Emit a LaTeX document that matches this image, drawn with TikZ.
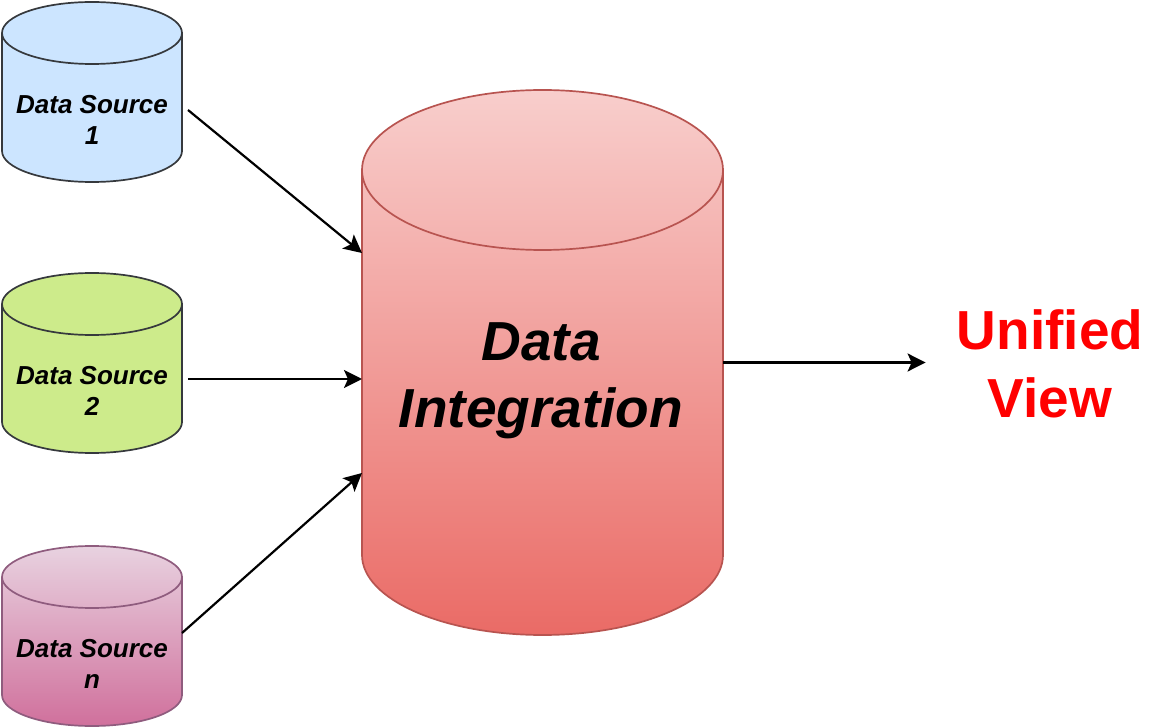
\documentclass[tikz,border=0pt]{standalone}
\usepackage{fontspec}
\setmainfont{Liberation Sans}
\usetikzlibrary{arrows.meta}

\definecolor{srcblue}{HTML}{CCE5FF}
\definecolor{srcgreen}{HTML}{CDEB8B}
\definecolor{srcpinktop}{HTML}{E8D2E0}
\definecolor{srcpinkbot}{HTML}{D0709C}
\definecolor{edgegray}{HTML}{36393D}
\definecolor{edgepink}{HTML}{8F5C7E}
\definecolor{integtop}{HTML}{F8CECC}
\definecolor{integbot}{HTML}{EA6B66}
\definecolor{edgered}{HTML}{B85450}
\definecolor{viewred}{HTML}{FF0000}

% can: centre x, centre y, half width, half height, end radius, fill, edge colour
\newcommand{\dbcan}[7]{%
  \path[#6] (#1-#3,#2-#4+#5) arc[start angle=180, end angle=360, x radius=#3, y radius=#5]
        -- (#1+#3,#2+#4-#5) arc[start angle=0, end angle=180, x radius=#3, y radius=#5] -- cycle;
  \draw[#7, line width=1.7pt] (#1-#3,#2-#4+#5) arc[start angle=180, end angle=360, x radius=#3, y radius=#5]
        -- (#1+#3,#2+#4-#5) arc[start angle=0, end angle=180, x radius=#3, y radius=#5] -- cycle
        (#1-#3,#2-#4+#5) arc[start angle=180, end angle=0, x radius=#3, y radius=#5];
}

\begin{document}
\begin{tikzpicture}[
  x=1pt, y=-1pt,
  canbox/.style={
        inner sep=0pt,
        outer sep=0pt
  },
  srclabel/.style={
        align=center,
        font=\fontsize{26}{31}\selectfont\bfseries\itshape
  },
  link/.style={
        -{Stealth[length=18pt, width=18pt, inset=4pt]},
        line width=2.2pt
  }
]

    \useasboundingbox (0,0) rectangle (1176,727);

    \dbcan{92}{92}{90}{90}{31}{fill=srcblue}{edgegray}
    \dbcan{92}{363}{90}{90}{31}{fill=srcgreen}{edgegray}
    \dbcan{92}{636}{90}{90}{31}{top color=srcpinktop, bottom color=srcpinkbot}{edgepink}
    \dbcan{542.5}{362.5}{180.5}{272.5}{80}{top color=integtop, bottom color=integbot}{edgered}

    \node[canbox, minimum width=180pt, minimum height=180pt] (src1) at (92,92) {};
    \node[canbox, minimum width=180pt, minimum height=180pt] (src2) at (92,363) {};
    \node[canbox, minimum width=180pt, minimum height=180pt] (srcn) at (92,636) {};
    \node[canbox, minimum width=361pt, minimum height=545pt] (integ) at (542.5,362.5) {};

    \node[srclabel] (src1txt) at (92,120) {Data Source\\1};
    \node[srclabel] (src2txt) at (92,391) {Data Source\\2};
    \node[srclabel] (srcntxt) at (92,664) {Data Source\\n};
    \node[align=center, font=\fontsize{55}{67}\selectfont\bfseries\itshape] (integtxt) at (541,381) {Data\\Integration};
    \node[align=center, inner sep=0pt, text=viewred, font=\fontsize{55}{68}\selectfont\bfseries] (view) at (1050,364) {Unified\\View};

    \draw[link] ([shift={(6,18)}]src1.east) -- ([shift={(0,-109.5)}]integ.west);
    \draw[link] ([shift={(6,16)}]src2.east) -- ([shift={(0,16.5)}]integ.west);
    \draw[link] ([shift={(0,-3)}]srcn.east) -- ([shift={(0,110.5)}]integ.west);
    \draw[link] (integ.east) -- ([xshift=-31pt]integ.east -| view.west);
\end{tikzpicture}
\end{document}
